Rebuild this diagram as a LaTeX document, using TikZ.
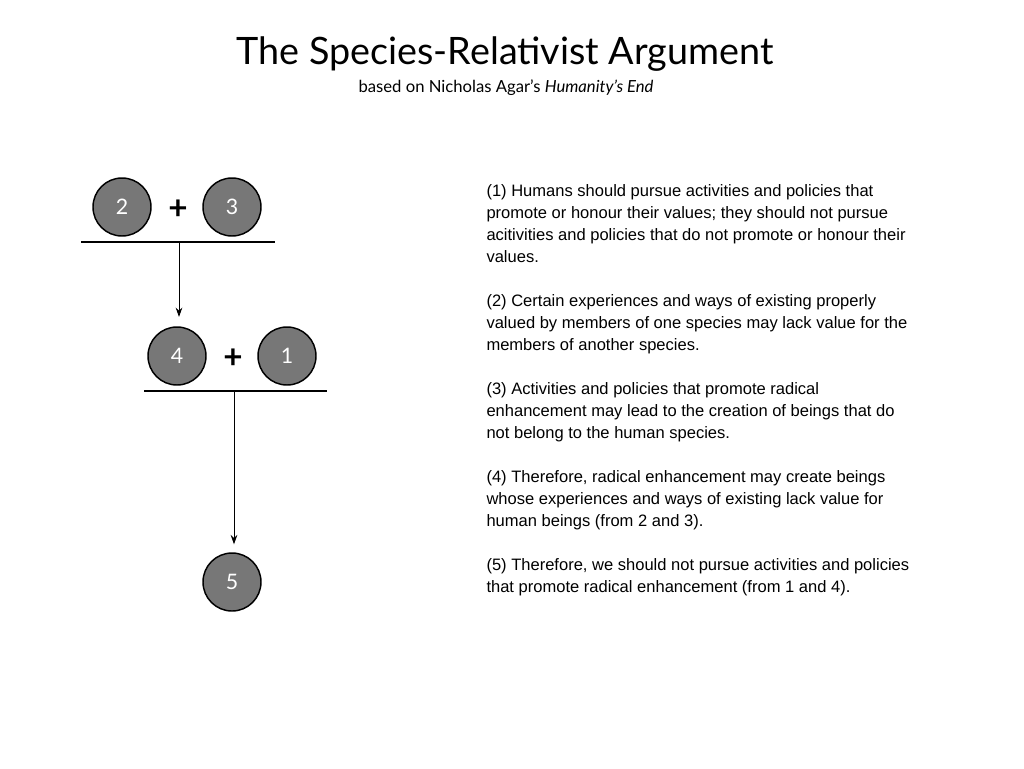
\documentclass[tikz,border=0pt]{standalone}
\usepackage{fontspec}
\setmainfont{Liberation Sans}
\newfontfamily\gillfont{Lato}
\usetikzlibrary{positioning,arrows.meta}
\tikzset{every picture/.style={line width=0.75pt}}

\begin{document}
\begin{tikzpicture}[x=0.75pt,y=0.75pt,yscale=-1,xscale=1,
  premise/.style={circle,draw=black,line width=1.1pt,fill={rgb,255:red,119;green,119;blue,119},minimum size=43.5pt,inner sep=0pt,text=white,font=\gillfont\fontsize{16}{18}\selectfont},
  plus/.style={font=\gillfont\bfseries\fontsize{25}{28}\selectfont},
  claim/.style={anchor=north west,align=left,inner sep=0pt,font=\fontsize{12.4}{16.5}\selectfont}]
\useasboundingbox (0,0) rectangle (1024,768);

% Title
\node (title) at (505,54) {\gillfont\fontsize{28.3}{34}\selectfont The Species-Relativist Argument};
\node (subtitle) at (506,88) {\gillfont\fontsize{12.5}{14}\selectfont based on Nicholas Agar’s \textit{Humanity’s End}};

% First inference
\node [premise] (c2) at (122,207) {2};
\node [premise] (c3) at (232,207) {3};
\node [plus] (plus1) at (178,210) {+};
\draw [line width=1.1pt] (81,242) -- (275,242);
\coordinate (bar1) at (179,242);

% Second inference
\node [premise] (c4) at (177,356) {4};
\node [premise] (c1) at (287,356) {1};
\node [plus] (plus2) at (233,359) {+};
\draw [line width=1.1pt] (144,391) -- (327,391);
\coordinate (bar2) at (234,391);

% Conclusion
\node [premise] (c5) at (232,582) {5};

% Arrows
\draw [-{Stealth[length=7pt,width=5pt]}] (bar1) -- (bar1 |- c4.north) [shorten >=7pt];
\draw [-{Stealth[length=7pt,width=5pt]}] (bar2) -- (bar2 |- c5.north) [shorten >=6pt];

% Premises text
\node [claim] (p1) at (486,184) {(1) Humans should pursue activities and policies that\\promote or honour their values; they should not pursue\\acitivities and policies that do not promote or honour their\\values.};
\node [claim] (p2) at (486,294) {(2) Certain experiences and ways of existing properly\\valued by members of one species may lack value for the\\members of another species.};
\node [claim] (p3) at (486,382) {(3) Activities and policies that promote radical\\enhancement may lead to the creation of beings that do\\not belong to the human species.};
\node [claim] (p4) at (486,470) {(4) Therefore, radical enhancement may create beings\\whose experiences and ways of existing lack value for\\human beings (from 2 and 3).};
\node [claim] (p5) at (486,558) {(5) Therefore, we should not pursue activities and policies\\that promote radical enhancement (from 1 and 4).};

\end{tikzpicture}
\end{document}
